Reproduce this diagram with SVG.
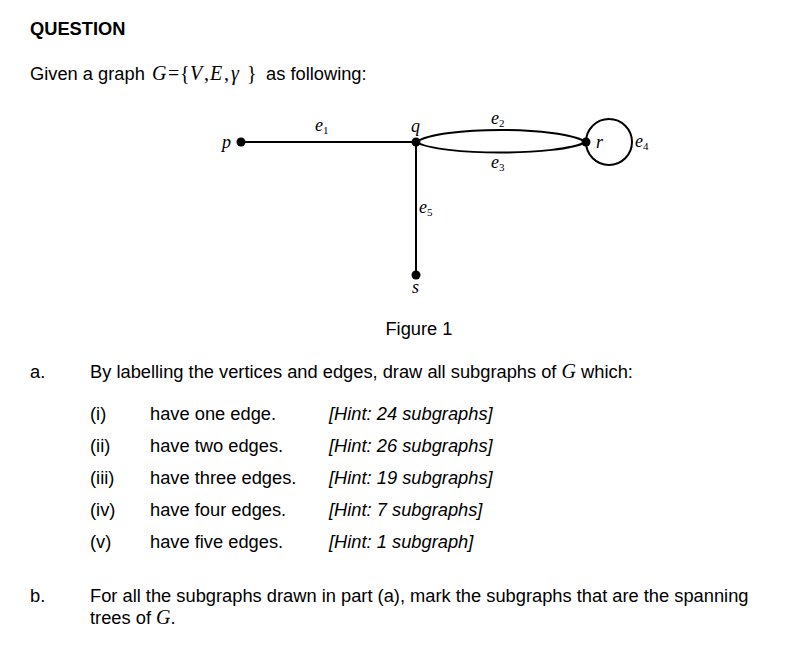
<svg xmlns="http://www.w3.org/2000/svg" width="792" height="653" viewBox="0 0 792 653">
<style>
.t{font-family:"Liberation Sans",Arial,sans-serif;font-size:18.3px;fill:#000}
.b{font-weight:bold}
.i{font-style:italic}
.m{font-family:"Liberation Serif","Times New Roman",serif;font-style:italic;font-size:20px;fill:#000}
.mu{font-family:"Liberation Serif","Times New Roman",serif;font-style:normal;font-size:20px;fill:#000}
.lbl{font-family:"Liberation Serif","Times New Roman",serif;font-style:italic;font-size:18px;fill:#000}
.sub{font-style:normal;font-size:11px}
.edge{stroke:#000;stroke-width:2;fill:none}
.dot{fill:#000}
</style>
<rect width="792" height="653" fill="#fff"/>
<text class="t b" x="30" y="35">QUESTION</text>
<text class="t" x="30" y="80">Given a graph</text>
<text class="m" x="152" y="80">G</text>
<text class="mu" x="168" y="80">=</text>
<text class="mu" x="180" y="80">{</text>
<text class="m" x="190" y="80">V</text>
<text class="mu" x="204" y="80">,</text>
<text class="m" x="210" y="80">E</text>
<text class="mu" x="224" y="80">,</text>
<text class="m" x="231" y="80">γ</text>
<text class="mu" x="247" y="80">}</text>
<text class="t" x="266" y="80">as following:</text>

<g id="connectors">
<line id="e1" class="edge" x1="241" y1="142" x2="416" y2="142"/>
<path id="e2" class="edge" d="M416,142 C440,126 560,126 586,142"/>
<path id="e3" class="edge" d="M416,142 C440,156 560,156 586,142"/>
<circle id="e4" class="edge" cx="609" cy="142" r="23"/>
<line id="e5" class="edge" x1="416" y1="142" x2="416" y2="275"/>
</g>
<g id="edge-labels">
<text class="lbl" x="315" y="131">e<tspan class="sub" dy="3">1</tspan></text>
<text class="lbl" x="491" y="124">e<tspan class="sub" dy="3">2</tspan></text>
<text class="lbl" x="491" y="168">e<tspan class="sub" dy="3">3</tspan></text>
<text class="lbl" x="635" y="147">e<tspan class="sub" dy="3">4</tspan></text>
<text class="lbl" x="419" y="213">e<tspan class="sub" dy="3">5</tspan></text>
</g>
<g id="node-p"><circle class="dot" cx="241" cy="142" r="4.5"/><text class="lbl" x="222" y="148">p</text></g>
<g id="node-q"><circle class="dot" cx="416" cy="142" r="4.5"/><text class="lbl" x="411" y="132">q</text></g>
<g id="node-r"><circle class="dot" cx="586" cy="142" r="4.5"/><text class="lbl" x="596" y="148">r</text></g>
<g id="node-s"><circle class="dot" cx="416" cy="275" r="4.5"/><text class="lbl" x="412" y="293">s</text></g>

<text class="t" x="419" y="335" text-anchor="middle">Figure 1</text>

<text class="t" x="30" y="378">a.</text>
<text class="t" x="90" y="378">By labelling the vertices and edges, draw all subgraphs of <tspan class="m">G</tspan> which:</text>

<g>
<text class="t" x="90" y="420">(i)</text><text class="t" x="150" y="420">have one edge.</text><text class="t i" x="329" y="420">[Hint: 24 subgraphs]</text>
<text class="t" x="90" y="452">(ii)</text><text class="t" x="150" y="452">have two edges.</text><text class="t i" x="329" y="452">[Hint: 26 subgraphs]</text>
<text class="t" x="90" y="484">(iii)</text><text class="t" x="150" y="484">have three edges.</text><text class="t i" x="329" y="484">[Hint: 19 subgraphs]</text>
<text class="t" x="90" y="516">(iv)</text><text class="t" x="150" y="516">have four edges.</text><text class="t i" x="329" y="516">[Hint: 7 subgraphs]</text>
<text class="t" x="90" y="548">(v)</text><text class="t" x="150" y="548">have five edges.</text><text class="t i" x="329" y="548">[Hint: 1 subgraph]</text>
</g>

<text class="t" x="30" y="602">b.</text>
<text class="t" x="90" y="602">For all the subgraphs drawn in part (a), mark the subgraphs that are the spanning</text>
<text class="t" x="90" y="624">trees of <tspan class="m">G</tspan>.</text>
</svg>
